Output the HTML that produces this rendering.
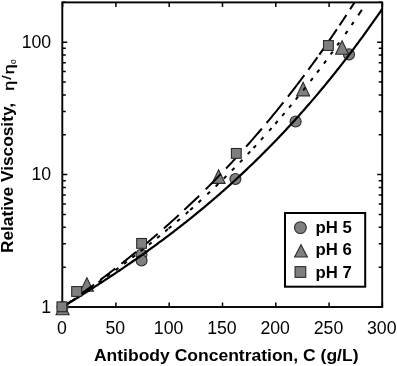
<!DOCTYPE html>
<html><head><meta charset="utf-8"><style>
html,body{margin:0;padding:0;background:#fff;}
body{width:397px;height:366px;overflow:hidden;}
svg{display:block;}
text{font-family:"Liberation Sans",Arial,sans-serif;fill:#000;}
</style></head><body>
<svg width="397" height="366" viewBox="0 0 397 366">
<rect width="397" height="366" fill="#fff"/>
<path d="M62.60,307.00V302.50 M62.60,2.40V6.90 M115.90,307.00V302.50 M115.90,2.40V6.90 M169.20,307.00V302.50 M169.20,2.40V6.90 M222.50,307.00V302.50 M222.50,2.40V6.90 M275.80,307.00V302.50 M275.80,2.40V6.90 M329.10,307.00V302.50 M329.10,2.40V6.90 M382.40,307.00V302.50 M382.40,2.40V6.90 M62.30,307.00H67.30 M382.20,307.00H377.20 M62.30,267.14H65.80 M382.20,267.14H378.70 M62.30,243.83H65.80 M382.20,243.83H378.70 M62.30,227.29H65.80 M382.20,227.29H378.70 M62.30,214.46H65.80 M382.20,214.46H378.70 M62.30,203.97H65.80 M382.20,203.97H378.70 M62.30,195.11H65.80 M382.20,195.11H378.70 M62.30,187.43H65.80 M382.20,187.43H378.70 M62.30,180.66H65.80 M382.20,180.66H378.70 M62.30,174.60H67.30 M382.20,174.60H377.20 M62.30,134.74H65.80 M382.20,134.74H378.70 M62.30,111.43H65.80 M382.20,111.43H378.70 M62.30,94.89H65.80 M382.20,94.89H378.70 M62.30,82.06H65.80 M382.20,82.06H378.70 M62.30,71.57H65.80 M382.20,71.57H378.70 M62.30,62.71H65.80 M382.20,62.71H378.70 M62.30,55.03H65.80 M382.20,55.03H378.70 M62.30,48.26H65.80 M382.20,48.26H378.70 M62.30,42.20H67.30 M382.20,42.20H377.20 M62.30,2.34H65.80 M382.20,2.34H378.70" stroke="#000" stroke-width="1.5" fill="none"/>
<rect x="62.30" y="2.40" width="319.90" height="304.60" fill="none" stroke="#000" stroke-width="1.9"/>
<g fill="#7f7f7f" stroke="#2a2a2a" stroke-width="1.1">
<circle cx="62.60" cy="307.00" r="5.50"/>
<circle cx="141.50" cy="254.50" r="5.50"/>
<circle cx="141.60" cy="260.50" r="5.50"/>
<circle cx="235.40" cy="179.00" r="5.50"/>
<circle cx="295.60" cy="121.50" r="5.50"/>
<circle cx="349.00" cy="54.40" r="5.50"/>
<polygon points="62.60,301.25 69.10,314.75 56.10,314.75"/>
<polygon points="86.90,277.75 93.40,291.25 80.40,291.25"/>
<polygon points="218.60,169.85 225.10,183.35 212.10,183.35"/>
<polygon points="303.10,82.35 309.60,95.85 296.60,95.85"/>
<polygon points="342.10,40.75 348.60,54.25 335.60,54.25"/>
</g>
<path d="M62.60,307.00 L63.67,306.34 L64.73,305.68 L65.80,305.03 L66.86,304.37 L67.93,303.71 L69.00,303.04 L70.06,302.38 L71.13,301.72 L72.19,301.05 L73.26,300.39 L74.33,299.72 L75.39,299.06 L76.46,298.39 L77.52,297.72 L78.59,297.05 L79.66,296.38 L80.72,295.71 L81.79,295.04 L82.85,294.36 L83.92,293.69 L84.99,293.01 L86.05,292.34 L87.12,291.66 L88.18,290.98 L89.25,290.30 L90.32,289.62 L91.38,288.94 L92.45,288.25 L93.51,287.57 L94.58,286.88 L95.65,286.19 L96.71,285.51 L97.78,284.82 L98.84,284.12 L99.91,283.43 L100.98,282.74 L102.04,282.04 L103.11,281.35 L104.17,280.65 L105.24,279.95 L106.31,279.25 L107.37,278.55 L108.44,277.85 L109.50,277.14 L110.57,276.44 L111.64,275.73 L112.70,275.02 L113.77,274.31 L114.83,273.60 L115.90,272.89 L116.97,272.17 L118.03,271.46 L119.10,270.74 L120.16,270.02 L121.23,269.30 L122.30,268.58 L123.36,267.85 L124.43,267.13 L125.49,266.40 L126.56,265.67 L127.63,264.94 L128.69,264.21 L129.76,263.48 L130.82,262.74 L131.89,262.00 L132.96,261.26 L134.02,260.52 L135.09,259.78 L136.15,259.04 L137.22,258.29 L138.29,257.54 L139.35,256.79 L140.42,256.04 L141.48,255.29 L142.55,254.53 L143.62,253.78 L144.68,253.02 L145.75,252.26 L146.81,251.49 L147.88,250.73 L148.95,249.96 L150.01,249.19 L151.08,248.42 L152.14,247.65 L153.21,246.88 L154.28,246.10 L155.34,245.32 L156.41,244.54 L157.47,243.76 L158.54,242.97 L159.61,242.19 L160.67,241.40 L161.74,240.61 L162.80,239.81 L163.87,239.02 L164.94,238.22 L166.00,237.42 L167.07,236.62 L168.13,235.81 L169.20,235.01 L170.27,234.20 L171.33,233.39 L172.40,232.57 L173.46,231.76 L174.53,230.94 L175.60,230.12 L176.66,229.30 L177.73,228.47 L178.79,227.64 L179.86,226.81 L180.93,225.98 L181.99,225.15 L183.06,224.31 L184.12,223.47 L185.19,222.63 L186.26,221.78 L187.32,220.94 L188.39,220.09 L189.45,219.24 L190.52,218.38 L191.59,217.52 L192.65,216.67 L193.72,215.80 L194.78,214.94 L195.85,214.07 L196.92,213.20 L197.98,212.33 L199.05,211.45 L200.11,210.58 L201.18,209.70 L202.25,208.81 L203.31,207.93 L204.38,207.04 L205.44,206.15 L206.51,205.25 L207.58,204.36 L208.64,203.46 L209.71,202.55 L210.77,201.65 L211.84,200.74 L212.91,199.83 L213.97,198.91 L215.04,198.00 L216.10,197.08 L217.17,196.16 L218.24,195.23 L219.30,194.30 L220.37,193.37 L221.43,192.44 L222.50,191.50 L223.57,190.56 L224.63,189.62 L225.70,188.67 L226.76,187.72 L227.83,186.77 L228.90,185.81 L229.96,184.85 L231.03,183.89 L232.09,182.93 L233.16,181.96 L234.23,180.99 L235.29,180.01 L236.36,179.04 L237.42,178.06 L238.49,177.07 L239.56,176.09 L240.62,175.10 L241.69,174.10 L242.75,173.11 L243.82,172.11 L244.89,171.10 L245.95,170.10 L247.02,169.09 L248.08,168.07 L249.15,167.06 L250.22,166.04 L251.28,165.01 L252.35,163.99 L253.41,162.96 L254.48,161.92 L255.55,160.89 L256.61,159.85 L257.68,158.80 L258.74,157.75 L259.81,156.70 L260.88,155.65 L261.94,154.59 L263.01,153.53 L264.07,152.47 L265.14,151.40 L266.21,150.32 L267.27,149.25 L268.34,148.17 L269.40,147.09 L270.47,146.00 L271.54,144.91 L272.60,143.82 L273.67,142.72 L274.73,141.62 L275.80,140.51 L276.87,139.40 L277.93,138.29 L279.00,137.17 L280.06,136.05 L281.13,134.93 L282.20,133.80 L283.26,132.67 L284.33,131.54 L285.39,130.40 L286.46,129.25 L287.53,128.11 L288.59,126.96 L289.66,125.80 L290.72,124.64 L291.79,123.48 L292.86,122.31 L293.92,121.14 L294.99,119.97 L296.05,118.79 L297.12,117.61 L298.19,116.42 L299.25,115.23 L300.32,114.03 L301.38,112.84 L302.45,111.63 L303.52,110.43 L304.58,109.21 L305.65,108.00 L306.71,106.78 L307.78,105.56 L308.85,104.33 L309.91,103.10 L310.98,101.86 L312.04,100.62 L313.11,99.38 L314.18,98.13 L315.24,96.87 L316.31,95.62 L317.37,94.35 L318.44,93.09 L319.51,91.82 L320.57,90.54 L321.64,89.26 L322.70,87.98 L323.77,86.69 L324.84,85.40 L325.90,84.10 L326.97,82.80 L328.03,81.50 L329.10,80.19 L330.17,78.87 L331.23,77.55 L332.30,76.23 L333.36,74.90 L334.43,73.57 L335.50,72.23 L336.56,70.89 L337.63,69.55 L338.69,68.20 L339.76,66.84 L340.83,65.48 L341.89,64.11 L342.96,62.75 L344.02,61.37 L345.09,59.99 L346.16,58.61 L347.22,57.22 L348.29,55.83 L349.35,54.43 L350.42,53.03 L351.49,51.62 L352.55,50.21 L353.62,48.79 L354.68,47.37 L355.75,45.95 L356.82,44.51 L357.88,43.08 L358.95,41.64 L360.01,40.19 L361.08,38.74 L362.15,37.28 L363.21,35.82 L364.28,34.36 L365.34,32.89 L366.41,31.41 L367.48,29.93 L368.54,28.45 L369.61,26.96 L370.67,25.46 L371.74,23.96 L372.81,22.45 L373.87,20.94 L374.94,19.43 L376.00,17.91 L377.07,16.38 L378.14,14.85 L379.20,13.31 L380.27,11.77 L381.33,10.22 L382.40,8.67" stroke="#000" stroke-width="2.2" fill="none"/>
<path d="M62.60,307.00 L63.67,306.29 L64.73,305.58 L65.80,304.87 L66.86,304.16 L67.93,303.45 L69.00,302.73 L70.06,302.02 L71.13,301.30 L72.19,300.58 L73.26,299.86 L74.33,299.14 L75.39,298.42 L76.46,297.70 L77.52,296.97 L78.59,296.25 L79.66,295.52 L80.72,294.79 L81.79,294.06 L82.85,293.33 L83.92,292.60 L84.99,291.86 L86.05,291.13 L87.12,290.39 L88.18,289.65 L89.25,288.91 L90.32,288.17 L91.38,287.43 L92.45,286.68 L93.51,285.93 L94.58,285.19 L95.65,284.44 L96.71,283.69 L97.78,282.93 L98.84,282.18 L99.91,281.42 L100.98,280.66 L102.04,279.91 L103.11,279.14 L104.17,278.38 L105.24,277.62 L106.31,276.85 L107.37,276.08 L108.44,275.31 L109.50,274.54 L110.57,273.77 L111.64,272.99 L112.70,272.22 L113.77,271.44 L114.83,270.66 L115.90,269.88 L116.97,269.09 L118.03,268.30 L119.10,267.52 L120.16,266.73 L121.23,265.94 L122.30,265.14 L123.36,264.35 L124.43,263.55 L125.49,262.75 L126.56,261.95 L127.63,261.14 L128.69,260.34 L129.76,259.53 L130.82,258.72 L131.89,257.91 L132.96,257.09 L134.02,256.28 L135.09,255.46 L136.15,254.64 L137.22,253.82 L138.29,252.99 L139.35,252.16 L140.42,251.33 L141.48,250.50 L142.55,249.67 L143.62,248.83 L144.68,248.00 L145.75,247.16 L146.81,246.31 L147.88,245.47 L148.95,244.62 L150.01,243.77 L151.08,242.92 L152.14,242.07 L153.21,241.21 L154.28,240.35 L155.34,239.49 L156.41,238.63 L157.47,237.76 L158.54,236.89 L159.61,236.02 L160.67,235.15 L161.74,234.27 L162.80,233.39 L163.87,232.51 L164.94,231.63 L166.00,230.74 L167.07,229.85 L168.13,228.96 L169.20,228.07 L170.27,227.17 L171.33,226.27 L172.40,225.37 L173.46,224.47 L174.53,223.56 L175.60,222.65 L176.66,221.74 L177.73,220.83 L178.79,219.91 L179.86,218.99 L180.93,218.07 L181.99,217.14 L183.06,216.21 L184.12,215.28 L185.19,214.35 L186.26,213.41 L187.32,212.47 L188.39,211.53 L189.45,210.58 L190.52,209.63 L191.59,208.68 L192.65,207.73 L193.72,206.77 L194.78,205.81 L195.85,204.85 L196.92,203.88 L197.98,202.91 L199.05,201.94 L200.11,200.97 L201.18,199.99 L202.25,199.01 L203.31,198.03 L204.38,197.04 L205.44,196.05 L206.51,195.06 L207.58,194.06 L208.64,193.06 L209.71,192.06 L210.77,191.05 L211.84,190.05 L212.91,189.03 L213.97,188.02 L215.04,187.00 L216.10,185.98 L217.17,184.96 L218.24,183.93 L219.30,182.90 L220.37,181.86 L221.43,180.83 L222.50,179.78 L223.57,178.74 L224.63,177.69 L225.70,176.64 L226.76,175.59 L227.83,174.53 L228.90,173.47 L229.96,172.41 L231.03,171.34 L232.09,170.27 L233.16,169.19 L234.23,168.11 L235.29,167.03 L236.36,165.95 L237.42,164.86 L238.49,163.77 L239.56,162.67 L240.62,161.57 L241.69,160.47 L242.75,159.36 L243.82,158.26 L244.89,157.14 L245.95,156.02 L247.02,154.90 L248.08,153.78 L249.15,152.65 L250.22,151.52 L251.28,150.39 L252.35,149.25 L253.41,148.10 L254.48,146.96 L255.55,145.81 L256.61,144.65 L257.68,143.50 L258.74,142.34 L259.81,141.17 L260.88,140.00 L261.94,138.83 L263.01,137.65 L264.07,136.47 L265.14,135.29 L266.21,134.10 L267.27,132.91 L268.34,131.71 L269.40,130.51 L270.47,129.31 L271.54,128.10 L272.60,126.89 L273.67,125.67 L274.73,124.45 L275.80,123.23 L276.87,122.00 L277.93,120.77 L279.00,119.53 L280.06,118.29 L281.13,117.05 L282.20,115.80 L283.26,114.55 L284.33,113.29 L285.39,112.03 L286.46,110.76 L287.53,109.50 L288.59,108.22 L289.66,106.94 L290.72,105.66 L291.79,104.38 L292.86,103.09 L293.92,101.79 L294.99,100.49 L296.05,99.19 L297.12,97.88 L298.19,96.57 L299.25,95.26 L300.32,93.94 L301.38,92.61 L302.45,91.28 L303.52,89.95 L304.58,88.61 L305.65,87.27 L306.71,85.92 L307.78,84.57 L308.85,83.22 L309.91,81.86 L310.98,80.49 L312.04,79.12 L313.11,77.75 L314.18,76.37 L315.24,74.99 L316.31,73.60 L317.37,72.21 L318.44,70.82 L319.51,69.42 L320.57,68.01 L321.64,66.60 L322.70,65.19 L323.77,63.77 L324.84,62.34 L325.90,60.91 L326.97,59.48 L328.03,58.04 L329.10,56.60 L330.17,55.15 L331.23,53.70 L332.30,52.24 L333.36,50.78 L334.43,49.31 L335.50,47.84 L336.56,46.36 L337.63,44.88 L338.69,43.40 L339.76,41.91 L340.83,40.41 L341.89,38.91 L342.96,37.40 L344.02,35.89 L345.09,34.38 L346.16,32.86 L347.22,31.33 L348.29,29.80 L349.35,28.27 L350.42,26.73 L351.49,25.18 L352.55,23.63 L353.62,22.07 L354.68,20.51 L355.75,18.95 L356.82,17.38 L357.88,15.80 L358.95,14.22 L360.01,12.63 L361.08,11.04 L362.15,9.44 L363.21,7.84 L364.28,6.23 L365.34,4.62 L366.41,3.01 L367.48,1.38" stroke="#000" stroke-width="2" fill="none" stroke-dasharray="0.00 1.50 3.60 6.90 3.60 6.90 3.60 6.90 3.60 6.90 3.60 6.90 3.60 6.90 3.60 6.90 3.60 6.90 3.60 6.90 3.60 6.90 3.60 6.90 3.60 6.90 3.60 0.90 3.60 7.50 3.60 7.80 3.60 2.30 3.60 7.60 3.60 8.50 3.60 7.80 3.60 7.80 3.60 7.80 3.60 7.80 3.60 7.80 3.60 4.70 3.60 7.50 3.60 8.70 3.60 5.70 3.60 6.90 3.60 7.00 3.60 7.00 3.60 8.20 3.60 8.30 3.60 7.10 3.60 7.70 3.60 7.70 3.60 7.60 3.60 10.40 3.60 7.30 3.60 8.10 6.60 200.00"/>
<path d="M62.60,307.00 L63.67,306.26 L64.73,305.52 L65.80,304.78 L66.86,304.04 L67.93,303.29 L69.00,302.55 L70.06,301.80 L71.13,301.05 L72.19,300.30 L73.26,299.55 L74.33,298.79 L75.39,298.04 L76.46,297.28 L77.52,296.52 L78.59,295.76 L79.66,295.00 L80.72,294.24 L81.79,293.47 L82.85,292.71 L83.92,291.94 L84.99,291.17 L86.05,290.40 L87.12,289.62 L88.18,288.85 L89.25,288.07 L90.32,287.29 L91.38,286.51 L92.45,285.73 L93.51,284.94 L94.58,284.16 L95.65,283.37 L96.71,282.58 L97.78,281.79 L98.84,281.00 L99.91,280.20 L100.98,279.40 L102.04,278.60 L103.11,277.80 L104.17,277.00 L105.24,276.19 L106.31,275.39 L107.37,274.58 L108.44,273.77 L109.50,272.95 L110.57,272.14 L111.64,271.32 L112.70,270.50 L113.77,269.68 L114.83,268.85 L115.90,268.03 L116.97,267.20 L118.03,266.37 L119.10,265.54 L120.16,264.70 L121.23,263.87 L122.30,263.03 L123.36,262.19 L124.43,261.34 L125.49,260.50 L126.56,259.65 L127.63,258.80 L128.69,257.95 L129.76,257.09 L130.82,256.23 L131.89,255.38 L132.96,254.51 L134.02,253.65 L135.09,252.78 L136.15,251.91 L137.22,251.04 L138.29,250.17 L139.35,249.29 L140.42,248.41 L141.48,247.53 L142.55,246.65 L143.62,245.76 L144.68,244.87 L145.75,243.98 L146.81,243.09 L147.88,242.19 L148.95,241.29 L150.01,240.39 L151.08,239.49 L152.14,238.58 L153.21,237.67 L154.28,236.76 L155.34,235.84 L156.41,234.93 L157.47,234.01 L158.54,233.08 L159.61,232.16 L160.67,231.23 L161.74,230.30 L162.80,229.37 L163.87,228.43 L164.94,227.49 L166.00,226.55 L167.07,225.60 L168.13,224.66 L169.20,223.71 L170.27,222.75 L171.33,221.80 L172.40,220.84 L173.46,219.88 L174.53,218.91 L175.60,217.94 L176.66,216.97 L177.73,216.00 L178.79,215.02 L179.86,214.04 L180.93,213.06 L181.99,212.07 L183.06,211.08 L184.12,210.09 L185.19,209.10 L186.26,208.10 L187.32,207.10 L188.39,206.09 L189.45,205.09 L190.52,204.08 L191.59,203.06 L192.65,202.05 L193.72,201.03 L194.78,200.00 L195.85,198.98 L196.92,197.95 L197.98,196.92 L199.05,195.88 L200.11,194.84 L201.18,193.80 L202.25,192.75 L203.31,191.70 L204.38,190.65 L205.44,189.59 L206.51,188.54 L207.58,187.47 L208.64,186.41 L209.71,185.34 L210.77,184.27 L211.84,183.19 L212.91,182.11 L213.97,181.03 L215.04,179.94 L216.10,178.85 L217.17,177.76 L218.24,176.66 L219.30,175.56 L220.37,174.46 L221.43,173.35 L222.50,172.24 L223.57,171.12 L224.63,170.01 L225.70,168.88 L226.76,167.76 L227.83,166.63 L228.90,165.50 L229.96,164.36 L231.03,163.22 L232.09,162.08 L233.16,160.93 L234.23,159.78 L235.29,158.62 L236.36,157.46 L237.42,156.30 L238.49,155.14 L239.56,153.97 L240.62,152.79 L241.69,151.61 L242.75,150.43 L243.82,149.25 L244.89,148.06 L245.95,146.87 L247.02,145.67 L248.08,144.47 L249.15,143.26 L250.22,142.05 L251.28,140.84 L252.35,139.63 L253.41,138.40 L254.48,137.18 L255.55,135.95 L256.61,134.72 L257.68,133.48 L258.74,132.24 L259.81,131.00 L260.88,129.75 L261.94,128.50 L263.01,127.24 L264.07,125.98 L265.14,124.71 L266.21,123.44 L267.27,122.17 L268.34,120.89 L269.40,119.61 L270.47,118.32 L271.54,117.03 L272.60,115.74 L273.67,114.44 L274.73,113.14 L275.80,111.83 L276.87,110.52 L277.93,109.20 L279.00,107.88 L280.06,106.56 L281.13,105.23 L282.20,103.89 L283.26,102.56 L284.33,101.21 L285.39,99.87 L286.46,98.52 L287.53,97.16 L288.59,95.80 L289.66,94.44 L290.72,93.07 L291.79,91.69 L292.86,90.32 L293.92,88.93 L294.99,87.55 L296.05,86.15 L297.12,84.76 L298.19,83.36 L299.25,81.95 L300.32,80.54 L301.38,79.13 L302.45,77.71 L303.52,76.29 L304.58,74.86 L305.65,73.42 L306.71,71.99 L307.78,70.54 L308.85,69.10 L309.91,67.64 L310.98,66.19 L312.04,64.73 L313.11,63.26 L314.18,61.79 L315.24,60.31 L316.31,58.83 L317.37,57.35 L318.44,55.86 L319.51,54.36 L320.57,52.86 L321.64,51.36 L322.70,49.85 L323.77,48.33 L324.84,46.81 L325.90,45.29 L326.97,43.76 L328.03,42.22 L329.10,40.68 L330.17,39.14 L331.23,37.59 L332.30,36.03 L333.36,34.47 L334.43,32.91 L335.50,31.34 L336.56,29.76 L337.63,28.18 L338.69,26.60 L339.76,25.01 L340.83,23.41 L341.89,21.81 L342.96,20.20 L344.02,18.59 L345.09,16.97 L346.16,15.35 L347.22,13.73 L348.29,12.09 L349.35,10.46 L350.42,8.81 L351.49,7.17 L352.55,5.51 L353.62,3.85 L354.68,2.19" stroke="#000" stroke-width="2" fill="none" stroke-dasharray="11.3 8.3 19.0 7.7 19.0 7.7 19.0 8 20 8.3 19.9 7.7 20.5 9.1 21.5 7.7 21.3 8.3 24.0 7.3 26.6 7.3 27.0 6.8 15.4 3.3 30.8 4.7 12.5 6.7 33.3 100"/>
<g fill="#7f7f7f" stroke="#2a2a2a" stroke-width="1.1">
<rect x="57.00" y="301.90" width="9.80" height="9.80"/>
<rect x="71.70" y="286.60" width="9.80" height="9.80"/>
<rect x="136.70" y="238.50" width="9.80" height="9.80"/>
<rect x="231.40" y="148.50" width="9.80" height="9.80"/>
<rect x="323.50" y="40.60" width="9.80" height="9.80"/>
</g>
<text x="62.00" y="334.2" font-size="17.7" text-anchor="middle">0</text>
<text x="115.30" y="334.2" font-size="17.7" text-anchor="middle">50</text>
<text x="168.60" y="334.2" font-size="17.7" text-anchor="middle">100</text>
<text x="221.90" y="334.2" font-size="17.7" text-anchor="middle">150</text>
<text x="275.20" y="334.2" font-size="17.7" text-anchor="middle">200</text>
<text x="328.50" y="334.2" font-size="17.7" text-anchor="middle">250</text>
<text x="381.80" y="334.2" font-size="17.7" text-anchor="middle">300</text>
<text x="51.2" y="312.60" font-size="17.7" text-anchor="end">1</text>
<text x="51.2" y="180.20" font-size="17.7" text-anchor="end">10</text>
<text x="51.2" y="47.80" font-size="17.7" text-anchor="end">100</text>
<text x="93.9" y="360.8" font-size="16.8" font-weight="bold" textLength="264.6" lengthAdjust="spacingAndGlyphs">Antibody Concentration, C (g/L)</text>
<text transform="translate(13.4,253.0) rotate(-90)" font-size="16.3" font-weight="bold" textLength="150" lengthAdjust="spacingAndGlyphs">Relative Viscosity,</text>
<text transform="translate(13.8,90.8) rotate(-90) scale(1.18,1)" font-size="15" font-family="Liberation Serif" letter-spacing="0.9" stroke="#000" stroke-width="0.35">η<tspan font-size="12" dy="-2.6" dx="0.3" stroke-width="0.25">/</tspan><tspan dy="2.6" dx="0.2">η</tspan></text>
<text transform="translate(15.6,63.9) rotate(-90)" font-size="8.5">o</text>
<rect x="285" y="213" width="80.2" height="73.7" fill="#fff" stroke="#000" stroke-width="2"/>
<g fill="#7f7f7f" stroke="#2a2a2a" stroke-width="1.1">
<circle cx="300.40" cy="227.60" r="5.90"/>
<polygon points="301.00,244.65 307.40,256.95 294.60,256.95"/>
<rect x="295.05" y="266.65" width="10.70" height="10.70"/>
</g>
<text x="315.6" y="232.5" font-size="16.5" font-weight="bold" textLength="36.3" lengthAdjust="spacingAndGlyphs">pH 5</text>
<text x="315.6" y="254.9" font-size="16.5" font-weight="bold" textLength="36.3" lengthAdjust="spacingAndGlyphs">pH 6</text>
<text x="315.6" y="277.6" font-size="16.5" font-weight="bold" textLength="36.3" lengthAdjust="spacingAndGlyphs">pH 7</text>
</svg></body></html>
